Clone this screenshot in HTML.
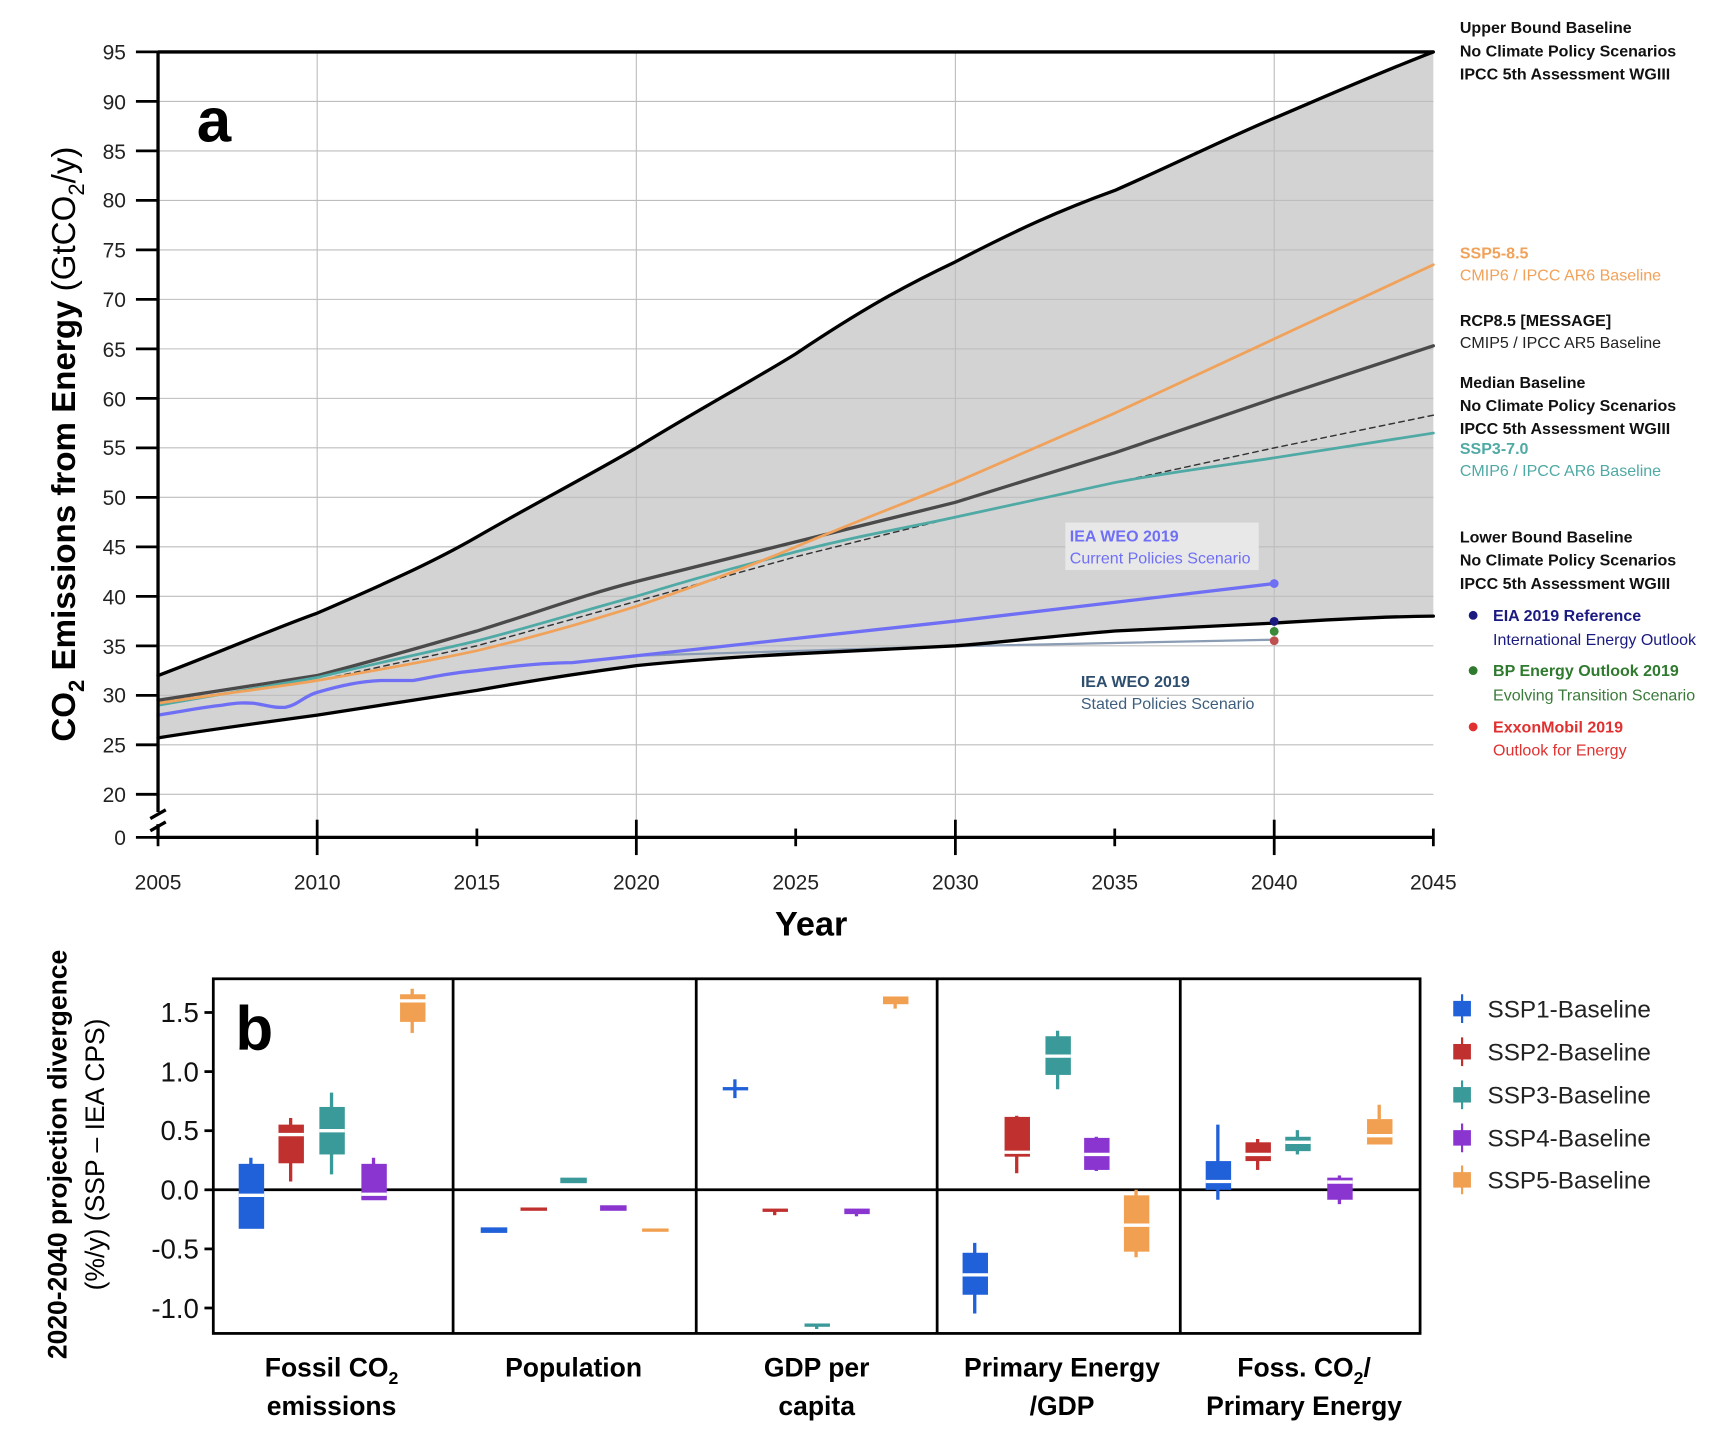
<!DOCTYPE html>
<html><head><meta charset="utf-8"><style>
html,body{margin:0;padding:0;background:#fff;}
svg{display:block;font-family:"Liberation Sans",sans-serif;}
</style></head><body>
<svg width="1724" height="1445" viewBox="0 0 1560 1308" preserveAspectRatio="none" xmlns="http://www.w3.org/2000/svg">
<rect width="1560" height="1308" fill="#fff"/>
<!-- fill -->
<path d="M143,611.5 C200,590 250,568 287,555 C340,532 390,510 431.5,486 C480,458 530,432 575.8,405.4 C630,372 680,345 720,320.3 C780,280 820,258 864.5,237 C920,208 960,190 1008.7,172.4 C1060,150 1110,125 1153,107 C1200,87 1250,65 1297,47 L1297,557.7 C1250,558 1200,561 1153,564 C1100,567 1050,569 1008.7,571.2 C950,576 900,582 864.5,584.6 C800,588 760,590 720,591.8 C660,595 620,598 575.8,602.5 C520,610 470,618 431.5,624.9 C380,633 330,641 287,647.3 C230,655 180,662 143,667.9 Z" fill="#d3d3d3"/>
<!-- grid -->
<g stroke="#bdbdbd" stroke-width="1">
<line x1="143" x2="1297" y1="91.8" y2="91.8"/><line x1="143" x2="1297" y1="136.6" y2="136.6"/><line x1="143" x2="1297" y1="181.4" y2="181.4"/><line x1="143" x2="1297" y1="226.2" y2="226.2"/><line x1="143" x2="1297" y1="271" y2="271"/><line x1="143" x2="1297" y1="315.8" y2="315.8"/><line x1="143" x2="1297" y1="360.6" y2="360.6"/><line x1="143" x2="1297" y1="405.4" y2="405.4"/><line x1="143" x2="1297" y1="450.2" y2="450.2"/><line x1="143" x2="1297" y1="495" y2="495"/><line x1="143" x2="1297" y1="539.8" y2="539.8"/><line x1="143" x2="1297" y1="584.6" y2="584.6"/><line x1="143" x2="1297" y1="629.4" y2="629.4"/><line x1="143" x2="1297" y1="674.2" y2="674.2"/><line x1="143" x2="1297" y1="719" y2="719"/>
<line x1="287" x2="287" y1="47" y2="758"/><line x1="575.8" x2="575.8" y1="47" y2="758"/><line x1="864.5" x2="864.5" y1="47" y2="758"/><line x1="1153" x2="1153" y1="47" y2="758"/>
</g>
<!-- series -->
<g fill="none" stroke-linejoin="round" stroke-linecap="round">
<path d="M143,635.7 L287,616 L431.5,584.6 L575.8,544.3 L720,504 L864.5,468.1 L1008.7,436.8 L1153,405.4 L1297,375.8" stroke="#333" stroke-width="1.3" stroke-dasharray="5,4"/>
<path d="M143,633.9 L287,611.5 C350,595 390,583 431.5,571.2 C490,553 530,538 575.8,526.4 C640,510 680,500 720,490.5 L864.5,454.7 L1008.7,409.9 L1153,360.6 L1297,313" stroke="#4a4a4a" stroke-width="3"/>
<path d="M143,638.4 L287,613.3 C350,598 390,590 431.5,580.1 C490,565 530,552 575.8,539.8 C640,520 680,510 720,499.5 C780,484 820,478 864.5,468.1 L1008.7,436.8 C1060,427 1110,421 1153,414.4 L1297,392" stroke="#4fa9a4" stroke-width="2.5"/>
<path d="M143,636.6 C200,628 250,622 287,616 C350,605 390,598 431.5,589 C490,575 530,563 575.8,548.8 C640,527 680,512 720,495 C780,470 820,455 864.5,436.8 L1008.7,374 L1153,306.8 L1297,239.6" stroke="#f1a25a" stroke-width="2.5"/>
<path d="M575.8,593.6 C700,590 780,587 864.5,585 L1153,579" stroke="#8a9db5" stroke-width="2"/>
<path d="M143,647.3 C170,643 185,640 200.7,638.4 C215,636 222,636 229.6,636.6 C240,638 247,641 258.4,640.2 C270,638 275,630 287,626.7 C310,620 325,617 344.9,616 L373.8,616 C395,612 410,609 431.5,607 C470,602 495,600 518,599.8 L575.8,593.6 L864.5,562.2 L1153,528.2" stroke="#6f6ff5" stroke-width="3"/>
<path d="M143,611.5 C200,590 250,568 287,555 C340,532 390,510 431.5,486 C480,458 530,432 575.8,405.4 C630,372 680,345 720,320.3 C780,280 820,258 864.5,237 C920,208 960,190 1008.7,172.4 C1060,150 1110,125 1153,107 C1200,87 1250,65 1297,47" stroke="#000" stroke-width="3"/>
<path d="M143,667.9 C180,662 230,655 287,647.3 C330,641 380,633 431.5,624.9 C470,618 520,610 575.8,602.5 C620,598 660,595 720,591.8 C760,590 800,588 864.5,584.6 C900,582 950,576 1008.7,571.2 C1050,569 1100,567 1153,564 C1200,561 1250,558 1297,557.7" stroke="#000" stroke-width="3"/>
</g>
<circle cx="1153" cy="528.2" r="4" fill="#6f6ff5"/>
<circle cx="1153" cy="562.5" r="4" fill="#1a1a80"/>
<circle cx="1153" cy="571.5" r="4" fill="#3a8a3a"/>
<circle cx="1153" cy="580" r="4" fill="#c05050"/>
<!-- axes -->
<g stroke="#000" stroke-width="3" fill="none">
<line x1="143" y1="47" x2="1297" y2="47"/>
<line x1="143" y1="47" x2="143" y2="735"/>
<line x1="143" y1="746" x2="143" y2="758"/>
<line x1="136" y1="741" x2="150" y2="733"/>
<line x1="136" y1="752" x2="150" y2="744"/>
<line x1="141" y1="758" x2="1297" y2="758"/>
</g>
<g stroke="#000" stroke-width="2.5">
<line x1="123" x2="143" y1="47" y2="47"/><line x1="123" x2="143" y1="91.8" y2="91.8"/><line x1="123" x2="143" y1="136.6" y2="136.6"/><line x1="123" x2="143" y1="181.4" y2="181.4"/><line x1="123" x2="143" y1="226.2" y2="226.2"/><line x1="123" x2="143" y1="271" y2="271"/><line x1="123" x2="143" y1="315.8" y2="315.8"/><line x1="123" x2="143" y1="360.6" y2="360.6"/><line x1="123" x2="143" y1="405.4" y2="405.4"/><line x1="123" x2="143" y1="450.2" y2="450.2"/><line x1="123" x2="143" y1="495" y2="495"/><line x1="123" x2="143" y1="539.8" y2="539.8"/><line x1="123" x2="143" y1="584.6" y2="584.6"/><line x1="123" x2="143" y1="629.4" y2="629.4"/><line x1="123" x2="143" y1="674.2" y2="674.2"/><line x1="123" x2="143" y1="719" y2="719"/><line x1="123" x2="143" y1="758" y2="758"/>
<line x1="287" x2="287" y1="742" y2="774"/><line x1="575.8" x2="575.8" y1="742" y2="774"/><line x1="864.5" x2="864.5" y1="742" y2="774"/><line x1="1153" x2="1153" y1="742" y2="774"/>
<line x1="431.5" x2="431.5" y1="750" y2="766"/><line x1="720" x2="720" y1="750" y2="766"/><line x1="1008.7" x2="1008.7" y1="750" y2="766"/><line x1="1297" x2="1297" y1="750" y2="766"/><line x1="143" x2="143" y1="750" y2="766"/>
</g>
<g font-size="19" fill="#222" text-anchor="end">
<text x="114" y="54">95</text><text x="114" y="99">90</text><text x="114" y="144">85</text><text x="114" y="188">80</text><text x="114" y="233">75</text><text x="114" y="278">70</text><text x="114" y="323">65</text><text x="114" y="368">60</text><text x="114" y="412">55</text><text x="114" y="457">50</text><text x="114" y="502">45</text><text x="114" y="547">40</text><text x="114" y="592">35</text><text x="114" y="636">30</text><text x="114" y="681">25</text><text x="114" y="726">20</text><text x="114" y="765">0</text>
</g>
<g font-size="19" fill="#222" text-anchor="middle">
<text x="143" y="805">2005</text><text x="287" y="805">2010</text><text x="431.5" y="805">2015</text><text x="575.8" y="805">2020</text><text x="720" y="805">2025</text><text x="864.5" y="805">2030</text><text x="1008.7" y="805">2035</text><text x="1153" y="805">2040</text><text x="1297" y="805">2045</text>
</g>
<text x="734" y="847" font-size="31" font-weight="bold" text-anchor="middle">Year</text>
<text x="178" y="128" font-size="56" font-weight="bold">a</text>
<text transform="translate(68,402) rotate(-90)" font-size="30" text-anchor="middle"><tspan font-weight="bold">CO<tspan font-size="20" dy="8">2</tspan><tspan dy="-8"> Emissions from Energy</tspan></tspan> (GtCO<tspan font-size="20" dy="8">2</tspan><tspan dy="-8">/y)</tspan></text>
<!-- IEA labels -->
<rect x="964" y="473" width="175" height="43" fill="#e8e8e8"/>
<text x="968" y="490" font-size="14.5" font-weight="bold" fill="#6f6ff5">IEA WEO 2019</text>
<text x="968" y="510" font-size="14.5" fill="#6f6ff5">Current Policies Scenario</text>
<text x="978" y="622" font-size="14.5" font-weight="bold" fill="#2e4e6e">IEA WEO 2019</text>
<text x="978" y="642" font-size="14.5" fill="#3e5e7e">Stated Policies Scenario</text>
<!-- right labels -->
<g font-size="14.5" font-weight="bold" fill="#111">
<text x="1321" y="30">Upper Bound Baseline</text><text x="1321" y="51">No Climate Policy Scenarios</text><text x="1321" y="72">IPCC 5th Assessment WGIII</text>
<text x="1321" y="234" fill="#f1a25a">SSP5-8.5</text>
<text x="1321" y="295">RCP8.5 [MESSAGE]</text>
<text x="1321" y="351">Median Baseline</text><text x="1321" y="372">No Climate Policy Scenarios</text><text x="1321" y="393">IPCC 5th Assessment WGIII</text>
<text x="1321" y="411" fill="#4fa9a4">SSP3-7.0</text>
<text x="1321" y="491">Lower Bound Baseline</text><text x="1321" y="512">No Climate Policy Scenarios</text><text x="1321" y="533">IPCC 5th Assessment WGIII</text>
<text x="1351" y="562" fill="#1a1a80">EIA 2019 Reference</text>
<text x="1351" y="612" fill="#2f7a2f">BP Energy Outlook 2019</text>
<text x="1351" y="663" fill="#e03030">ExxonMobil 2019</text>
</g>
<g font-size="14.5">
<text x="1321" y="254" fill="#f1a25a">CMIP6 / IPCC AR6 Baseline</text>
<text x="1321" y="315" fill="#222">CMIP5 / IPCC AR5 Baseline</text>
<text x="1321" y="431" fill="#4fa9a4">CMIP6 / IPCC AR6 Baseline</text>
<text x="1351" y="584" fill="#1a1a80">International Energy Outlook</text>
<text x="1351" y="634" fill="#3a7a3a">Evolving Transition Scenario</text>
<text x="1351" y="684" fill="#e03030">Outlook for Energy</text>
</g>
<circle cx="1333" cy="557" r="4" fill="#1a1a80"/><circle cx="1333" cy="607" r="4" fill="#2f7a2f"/><circle cx="1333" cy="658" r="4" fill="#e03030"/>

<!-- Panel b -->
<g stroke="#000" stroke-width="2.5" fill="none">
<rect x="193" y="886" width="1092" height="321"/>
<line x1="410" x2="410" y1="886" y2="1207"/><line x1="630" x2="630" y1="886" y2="1207"/><line x1="848" x2="848" y1="886" y2="1207"/><line x1="1068" x2="1068" y1="886" y2="1207"/>
<line x1="193" x2="1285" y1="1077" y2="1077"/>
<line x1="185" x2="193" y1="916.5" y2="916.5"/><line x1="185" x2="193" y1="970" y2="970"/><line x1="185" x2="193" y1="1023.5" y2="1023.5"/><line x1="185" x2="193" y1="1077" y2="1077"/><line x1="185" x2="193" y1="1130.5" y2="1130.5"/><line x1="185" x2="193" y1="1184" y2="1184"/>
</g>
<g font-size="25" fill="#111" text-anchor="end">
<text x="180" y="925">1.5</text><text x="180" y="979">1.0</text><text x="180" y="1032">0.5</text><text x="180" y="1086">0.0</text><text x="180" y="1139">-0.5</text><text x="180" y="1193">-1.0</text>
</g>
<text x="213" y="950" font-size="56" font-weight="bold">b</text>
<text transform="translate(60,1045) rotate(-90)" font-size="24" font-weight="bold" text-anchor="middle">2020-2040 projection divergence</text>
<text transform="translate(94,1045) rotate(-90)" font-size="24" text-anchor="middle">(%/y) (SSP – IEA CPS)</text>
<g font-size="24" font-weight="bold" text-anchor="middle">
<text x="300" y="1246">Fossil CO<tspan font-size="16" dy="7">2</tspan></text><text x="300" y="1281">emissions</text>
<text x="519" y="1246">Population</text>
<text x="739" y="1246">GDP per</text><text x="739" y="1281">capita</text>
<text x="961" y="1246">Primary Energy</text><text x="961" y="1281">/GDP</text>
<text x="1180" y="1246">Foss. CO<tspan font-size="16" dy="7">2</tspan><tspan dy="-7">/</tspan></text><text x="1180" y="1281">Primary Energy</text>
</g>
<!-- boxes: y(v)=1077-v*107 -->
<g stroke-width="3">
<!-- G1 -->
<line x1="227" x2="227" y1="1048" y2="1112" stroke="#2060d8"/><rect x="216" y="1053.5" width="23" height="58.8" fill="#2060d8"/><line x1="216" x2="239" y1="1082" y2="1082" stroke="#fff"/>
<line x1="263" x2="263" y1="1012" y2="1069.5" stroke="#c0302f"/><rect x="252" y="1018" width="23" height="35" fill="#c0302f"/><line x1="252" x2="275" y1="1027" y2="1027" stroke="#fff"/>
<line x1="300" x2="300" y1="989" y2="1063" stroke="#3a9a9a"/><rect x="289" y="1002" width="23" height="43" fill="#3a9a9a"/><line x1="289" x2="312" y1="1023.5" y2="1023.5" stroke="#fff"/>
<line x1="338" x2="338" y1="1048" y2="1077" stroke="#8a35d0"/><rect x="327" y="1053.5" width="23" height="31" fill="#8a35d0"/><line x1="327" x2="350" y1="1081" y2="1081" stroke="#fff"/><line x1="327" x2="350" y1="1085" y2="1085" stroke="#8a35d0"/>
<line x1="373" x2="373" y1="895" y2="935" stroke="#f0a050"/><rect x="362" y="900" width="23" height="25" fill="#f0a050"/><line x1="362" x2="385" y1="906" y2="906" stroke="#fff"/>
<!-- G2 -->
<rect x="435" y="1111" width="24" height="5" fill="#2060d8"/>
<rect x="471" y="1093" width="24" height="3" fill="#c0302f"/>
<rect x="507" y="1066" width="24" height="5" fill="#3a9a9a"/>
<rect x="543" y="1091" width="24" height="5" fill="#8a35d0"/>
<rect x="581" y="1112" width="24" height="3" fill="#f0a050"/>
<!-- G3 -->
<line x1="665" x2="665" y1="977" y2="994" stroke="#2060d8"/><rect x="654" y="984" width="23" height="3" fill="#2060d8"/>
<line x1="701" x2="701" y1="1095" y2="1100" stroke="#c0302f"/><rect x="690" y="1094" width="23" height="3" fill="#c0302f"/>
<line x1="739" x2="739" y1="1199" y2="1203" stroke="#3a9a9a"/><rect x="728" y="1198" width="23" height="3" fill="#3a9a9a"/>
<line x1="775" x2="775" y1="1096" y2="1101" stroke="#8a35d0"/><rect x="764" y="1094" width="23" height="5" fill="#8a35d0"/>
<line x1="810" x2="810" y1="903" y2="913" stroke="#f0a050"/><rect x="799" y="902" width="23" height="7" fill="#f0a050"/>
<!-- G4 -->
<line x1="882" x2="882" y1="1125" y2="1189" stroke="#2060d8"/><rect x="871" y="1134" width="23" height="38" fill="#2060d8"/><line x1="871" x2="894" y1="1154" y2="1154" stroke="#fff"/>
<line x1="920" x2="920" y1="1010" y2="1062" stroke="#c0302f"/><rect x="909" y="1011" width="23" height="36" fill="#c0302f"/><line x1="909" x2="932" y1="1043" y2="1043" stroke="#fff"/>
<line x1="957" x2="957" y1="933" y2="986" stroke="#3a9a9a"/><rect x="946" y="938" width="23" height="35" fill="#3a9a9a"/><line x1="946" x2="969" y1="956" y2="956" stroke="#fff"/>
<line x1="992" x2="992" y1="1029" y2="1060" stroke="#8a35d0"/><rect x="981" y="1030" width="23" height="29" fill="#8a35d0"/><line x1="981" x2="1004" y1="1045" y2="1045" stroke="#fff"/>
<line x1="1028" x2="1028" y1="1077" y2="1138" stroke="#f0a050"/><rect x="1017" y="1082" width="23" height="51" fill="#f0a050"/><line x1="1017" x2="1040" y1="1109" y2="1109" stroke="#fff"/>
<!-- G5 -->
<line x1="1102" x2="1102" y1="1018" y2="1086" stroke="#2060d8"/><rect x="1091" y="1051" width="23" height="26" fill="#2060d8"/><line x1="1091" x2="1114" y1="1069.5" y2="1069.5" stroke="#fff"/>
<line x1="1138" x2="1138" y1="1031" y2="1059" stroke="#c0302f"/><rect x="1127" y="1034" width="23" height="17" fill="#c0302f"/><line x1="1127" x2="1150" y1="1045" y2="1045" stroke="#fff"/>
<line x1="1174" x2="1174" y1="1023" y2="1045" stroke="#3a9a9a"/><rect x="1163" y="1029" width="23" height="13" fill="#3a9a9a"/><line x1="1163" x2="1186" y1="1034" y2="1034" stroke="#fff"/>
<line x1="1212" x2="1212" y1="1064" y2="1090" stroke="#8a35d0"/><rect x="1201" y="1066" width="23" height="20" fill="#8a35d0"/><line x1="1201" x2="1224" y1="1070" y2="1070" stroke="#fff"/>
<line x1="1248" x2="1248" y1="1000" y2="1013" stroke="#f0a050"/><rect x="1237" y="1013" width="23" height="23" fill="#f0a050"/><line x1="1237" x2="1260" y1="1028" y2="1028" stroke="#fff"/>
</g>
<!-- legend b -->
<g font-size="22" fill="#222">
<line x1="1323" x2="1323" y1="900" y2="926" stroke="#2060d8" stroke-width="2"/><rect x="1315" y="906" width="16" height="14" fill="#2060d8"/><text x="1346" y="921">SSP1-Baseline</text>
<line x1="1323" x2="1323" y1="939" y2="965" stroke="#c0302f" stroke-width="2"/><rect x="1315" y="945" width="16" height="14" fill="#c0302f"/><text x="1346" y="960">SSP2-Baseline</text>
<line x1="1323" x2="1323" y1="978" y2="1004" stroke="#3a9a9a" stroke-width="2"/><rect x="1315" y="984" width="16" height="14" fill="#3a9a9a"/><text x="1346" y="999">SSP3-Baseline</text>
<line x1="1323" x2="1323" y1="1017" y2="1043" stroke="#8a35d0" stroke-width="2"/><rect x="1315" y="1023" width="16" height="14" fill="#8a35d0"/><text x="1346" y="1038">SSP4-Baseline</text>
<line x1="1323" x2="1323" y1="1055" y2="1081" stroke="#f0a050" stroke-width="2"/><rect x="1315" y="1061" width="16" height="14" fill="#f0a050"/><text x="1346" y="1076">SSP5-Baseline</text>
</g>
</svg>
</body></html>
